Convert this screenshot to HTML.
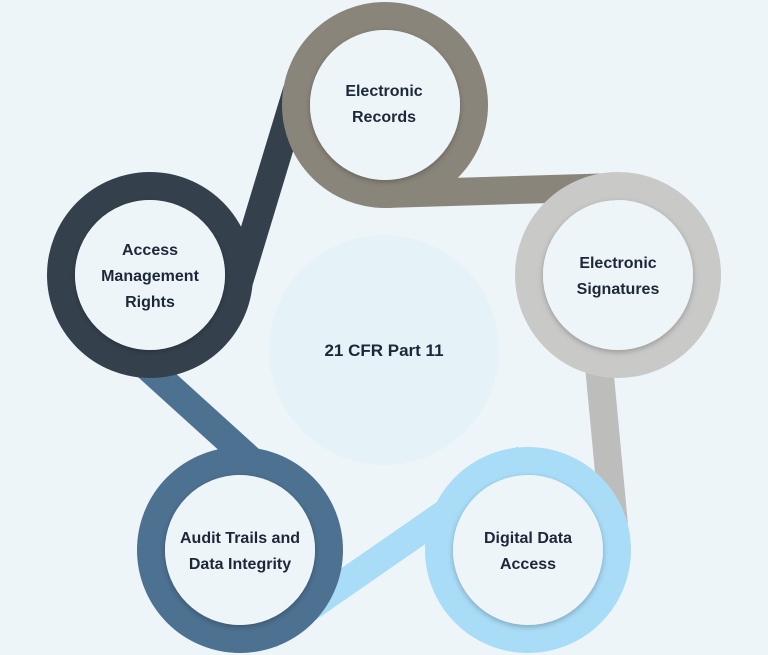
<!DOCTYPE html>
<html><head><style>body{margin:0;background:#eef5f9}svg{display:block}text{font-family:"Liberation Sans",sans-serif;font-weight:bold;fill:#1c2838;font-size:16px;text-anchor:middle}</style></head><body>
<svg width="768" height="655" viewBox="0 0 768 655">
<defs><filter id="s" x="-20%" y="-20%" width="140%" height="140%"><feDropShadow dx="0" dy="2" stdDeviation="3" flood-color="#000" flood-opacity="0.25"/></filter></defs>
<rect width="768" height="655" fill="#eef5f9"/>
<circle cx="384" cy="350" r="115" fill="#e5f2f8"/>
<g fill="none" stroke-width="28" stroke-linecap="butt">
<line x1="238" y1="285" x2="297" y2="90" stroke="#34414d"/>
<line x1="140" y1="360" x2="322" y2="525" stroke="#4d7191"/>
<line x1="525" y1="458" x2="268" y2="636" stroke="#a9dcf7"/>
<line x1="598" y1="355" x2="614" y2="525" stroke="#bdbdbc"/>
<line x1="385" y1="194" x2="618" y2="187" stroke="#8a857a"/>
</g>
<g fill="none" stroke-width="28">
<circle cx="385" cy="105" r="89" stroke="#8a857a"/>
<circle cx="618" cy="275" r="89" stroke="#c9c9c8"/>
<circle cx="528" cy="550" r="89" stroke="#a9dcf7"/>
<circle cx="240" cy="550" r="89" stroke="#4d7191"/>
<circle cx="150" cy="275" r="89" stroke="#34414d"/>
</g>
<g fill="#eef5f9" filter="url(#s)">
<circle cx="385" cy="105" r="75"/>
<circle cx="618" cy="275" r="75"/>
<circle cx="528" cy="550" r="75"/>
<circle cx="240" cy="550" r="75"/>
<circle cx="150" cy="275" r="75"/>
</g>
<text x="384" y="96">Electronic</text><text x="384" y="122">Records</text>
<text x="618" y="268">Electronic</text><text x="618" y="294">Signatures</text>
<text x="528" y="543">Digital Data</text><text x="528" y="569">Access</text>
<text x="240" y="543">Audit Trails and</text><text x="240" y="569">Data Integrity</text>
<text x="150" y="255">Access</text><text x="150" y="281">Management</text><text x="150" y="307">Rights</text>
<text x="384" y="356" style="font-size:17px">21 CFR Part 11</text>
</svg></body></html>
